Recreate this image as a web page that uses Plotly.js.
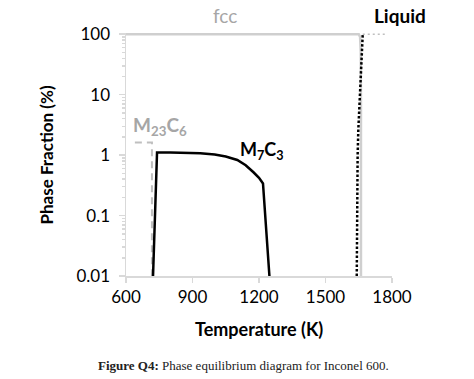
<!DOCTYPE html>
<html>
<head>
<meta charset="utf-8">
<script src="https://cdn.plot.ly/plotly-3.0.1.min.js"></script>
<style>html,body{margin:0;padding:0;background:#fff;}#chart{width:474px;height:379px;}</style>
</head>
<body>
<div id="chart"></div>
<script>
// Phase fraction (%) vs temperature (K), Inconel 600
const fccT = [600, 1650, 1656, 1659, 1660, 1660];
const fccV = [100, 100, 90, 50, 5, 0.01];

const liquidT = [1641, 1642, 1645, 1648, 1655, 1662, 1668];
const liquidV = [0.01, 0.1, 1, 2.6, 8.3, 26, 100];

const liquidTopT = [1668, 1768];
const liquidTopV = [100, 100];

const m7c3T = [722, 740, 800, 935, 1000, 1050, 1102, 1140, 1175, 1200, 1218, 1247];
const m7c3V = [0.01, 1.1, 1.1, 1.07, 1.02, 0.95, 0.83, 0.68, 0.52, 0.42, 0.34, 0.01];

const m23c6T = [640, 717, 717];
const m23c6V = [1.62, 1.62, 0.01];

const xTicks = [600, 900, 1200, 1500, 1800];
const yTicks = [0.01, 0.1, 1, 10, 100];
const yTickText = ['0.01', '0.1', '1', '10', '100'];

const font = 'Lato, "Open Sans", sans-serif';

const traces = [
  {x: fccT, y: fccV, mode: 'lines', line: {color: '#cfcfcf', width: 2.5}, hoverinfo: 'skip'},
  {x: m23c6T, y: m23c6V, mode: 'lines', line: {color: '#bfbfbf', width: 2, dash: '7px,5px'}},
  {x: m7c3T, y: m7c3V, mode: 'lines', line: {color: '#000000', width: 2.5}},
  {x: liquidTopT, y: liquidTopV, mode: 'lines', line: {color: '#bfbfbf', width: 1.5, dash: '2px,3px'}},
  {x: liquidT, y: liquidV, mode: 'lines', line: {color: '#000000', width: 2.5, dash: '2.5px,2px'}}
];

const layout = {
  width: 474, height: 379,
  margin: {l: 126, r: 82, t: 33, b: 103},
  paper_bgcolor: '#fff', plot_bgcolor: '#fff',
  showlegend: false,
  font: {family: font, color: '#000'},
  xaxis: {
    range: [600, 1800], tickvals: xTicks, ticktext: xTicks.map(String),
    showgrid: false, zeroline: false, showline: true, linecolor: '#d9d9d9', linewidth: 1.5,
    ticks: 'outside', ticklen: 5, tickcolor: '#d9d9d9', tickwidth: 1.5,
    tickfont: {family: font, size: 17, color: '#000'}
  },
  yaxis: {
    type: 'log', range: [-2, 2.02], tickvals: yTicks, ticktext: yTickText,
    showgrid: false, zeroline: false, showline: true, linecolor: '#d9d9d9', linewidth: 1.5,
    ticks: 'outside', ticklen: 6, tickcolor: '#d9d9d9', tickwidth: 1.5,
    minor: {ticks: 'outside', ticklen: 3, tickcolor: '#d9d9d9', dtick: 'D1', showgrid: false},
    tickfont: {family: font, size: 17, color: '#000'},
    ticklabelstandoff: 5
  },
  annotations: [
    {xref: 'paper', yref: 'paper', x: 0.5, y: -0.22, text: '<b>Temperature (K)</b>', showarrow: false,
     font: {family: font, size: 18, color: '#000'}, xanchor: 'center', yanchor: 'middle'},
    {xref: 'paper', yref: 'paper', x: -0.297, y: 0.5, text: '<b>Phase Fraction (%)</b>', showarrow: false,
     textangle: -90, font: {family: font, size: 17, color: '#000'}, xanchor: 'center', yanchor: 'middle'},
    {xref: 'paper', yref: 'paper', x: 0.44, y: -0.369, text: '<b>Figure Q4:</b> Phase equilibrium diagram for Inconel 600.',
     showarrow: false, font: {family: '"Liberation Serif", "DejaVu Serif", serif', size: 13, color: '#222'}, xanchor: 'center', yanchor: 'middle'},
    {xref: 'paper', yref: 'paper', x: 0.372, y: 1.071, text: 'fcc', showarrow: false,
     font: {family: font, size: 19, color: '#a6a6a6'}, xanchor: 'center', yanchor: 'middle'},
    {xref: 'paper', yref: 'paper', x: 1.03, y: 1.071, text: '<b>Liquid</b>', showarrow: false,
     font: {family: font, size: 19, color: '#000'}, xanchor: 'center', yanchor: 'middle'},
    {x: 753, y: Math.log10(3.0), text: '<b>M<sub>23</sub>C<sub>6</sub></b>', showarrow: false,
     font: {family: font, size: 19, color: '#a6a6a6'}, xanchor: 'center', yanchor: 'middle'},
    {x: 1213, y: Math.log10(1.21), text: '<b>M<sub>7</sub>C<sub>3</sub></b>', showarrow: false,
     font: {family: font, size: 18, color: '#000'}, xanchor: 'center', yanchor: 'middle'}
  ]
};

Plotly.newPlot('chart', traces, layout, {displayModeBar: false, staticPlot: true});
</script>
</body>
</html>
